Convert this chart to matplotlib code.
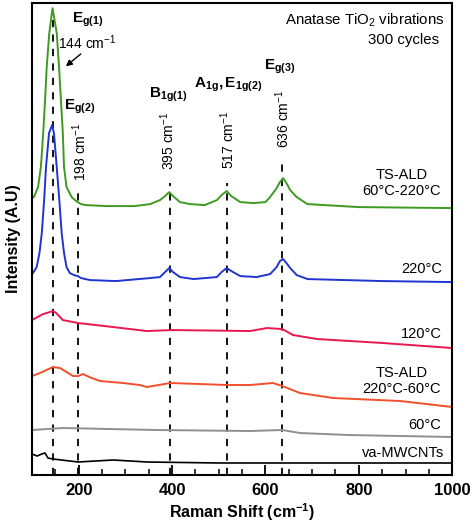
import numpy as np
import matplotlib
matplotlib.use("Agg")
import matplotlib.pyplot as plt

plt.rcParams['font.family'] = ['Liberation Sans', 'DejaVu Sans']
plt.rcParams['mathtext.fontset'] = 'custom'
plt.rcParams['mathtext.rm'] = 'Liberation Sans'
plt.rcParams['mathtext.it'] = 'Liberation Sans'
plt.rcParams['mathtext.bf'] = 'Liberation Sans:bold'

# Spectra (Raman shift in cm-1, intensity in arbitrary units)
green_x = [100, 104, 113, 119, 124, 128, 131.5, 137, 144, 153, 158, 162, 166, 168.6, 174, 185, 192,
           198, 205, 215, 260, 320, 353, 374, 385, 394, 402, 417, 439, 470, 496, 506, 517, 527, 546,
           574, 600, 610, 624, 631, 638, 645, 653, 667, 690, 800, 1000]
green_y = [277, 278, 288, 308, 342, 375, 408, 442, 467, 442, 408, 375, 342, 308, 288, 278, 275,
           273, 271, 270, 269, 269, 271, 275, 279, 283, 279, 273, 271, 270, 275, 280, 284, 279, 273,
           272, 273, 278, 287, 293, 297, 292, 285, 278, 271, 268, 267]

blue_x = [100, 102, 110, 116, 121, 126, 130, 136.5, 143, 147, 153, 158.5, 163.6, 168.6, 174, 181,
          190, 198, 205, 224, 280, 353, 374, 385, 394, 402, 417, 446, 496, 506, 517, 527, 546, 581,
          610, 624, 631, 638, 645, 653, 667, 690, 850, 1000]
blue_y = [201, 202, 208, 222, 242, 275, 308, 342, 350, 342, 308, 275, 242, 222, 208, 202,
          200, 199, 197, 195, 194, 197, 198, 203, 207, 203, 198, 196, 198, 203, 207, 204, 199, 198,
          201, 208, 214, 216, 212, 207, 200, 196, 194, 193]

crimson_x = [100, 124, 145, 152, 166, 199, 274, 346, 400, 567, 603, 636, 659, 711, 852, 1000]
crimson_y = [155, 161, 164, 162, 155, 152, 148, 144, 145, 144, 147, 146, 140, 136, 132, 127]

orange_x = [100, 117, 145, 160, 188, 199, 209, 228, 246, 295, 331, 346, 396, 460, 517, 567, 616,
            636, 674, 745, 889, 1000]
orange_y = [99, 102, 108, 107, 99, 99, 101, 97, 94, 92, 90, 88, 92, 91, 90, 90, 92, 89, 82, 77,
            74, 68]

grey_x = [100, 166, 366, 567, 636, 674, 778, 1000]
grey_y = [45, 47, 45, 44, 45, 42, 40, 38]

black_x = [100, 111, 121, 128, 134, 145, 199, 274, 346, 500, 700, 1000]
black_y = [21, 19, 21, 22, 17, 16, 13, 15, 13, 12, 12, 12]

# dashed mode lines: position, top of the line
mode_pos = [144, 198, 395, 517, 636]
mode_top = [465, 285, 292, 292, 315]

fig = plt.figure(figsize=(4.74, 5.28), dpi=100)
ax = fig.add_axes([0.0675, 0.1004, 0.8865, 0.8936])

for xp, top in zip(mode_pos, mode_top):
    ax.plot([xp, xp], [0, top], color='black', lw=1.3, ls=(0, (4, 4)), zorder=1)

ax.plot(green_x, green_y, color='#3f9a22', lw=1.4, zorder=2)
ax.plot(blue_x, blue_y, color='#2035d0', lw=1.4, zorder=2)
ax.plot(crimson_x, crimson_y, color='#e8184f', lw=1.4, zorder=2)
ax.plot(orange_x, orange_y, color='#f2502c', lw=1.4, zorder=2)
ax.plot(grey_x, grey_y, color='#8f8f8f', lw=1.4, zorder=2)
ax.plot(black_x, black_y, color='black', lw=1.2, zorder=2)

ax.set_xlim(100, 1000)
ax.set_ylim(0, 472)
ax.set_xticks([200, 400, 600, 800, 1000])
ax.set_xticks(np.arange(150, 1000, 50), minor=True)
ax.set_yticks([])
ax.tick_params(axis='x', which='major', direction='in', length=7, width=1.3, labelsize=12, pad=6)
ax.tick_params(axis='x', which='minor', direction='in', length=4, width=1.1)
for lab in ax.get_xticklabels():
    lab.set_fontweight('bold')
for sp in ax.spines.values():
    sp.set_linewidth(1.5)

ax.set_xlabel(r'Raman Shift (cm$^{\mathbf{-1}}$)', fontsize=11.5, fontweight='bold', labelpad=2)
ax.set_ylabel('Intensity (A.U)', fontsize=11.5, fontweight='bold', labelpad=8)

# mode annotations
fs = 10
ax.text(220, 455, r'$\mathbf{E_{g(1)}}$', fontsize=11, ha='center', va='center')
ax.text(218, 432, r'144 cm$^{-1}$', fontsize=fs, ha='center', va='center')
ax.annotate('', xy=(168, 407), xytext=(209, 423),
            arrowprops=dict(arrowstyle='-|>', color='black', lw=1.0, mutation_scale=9))
ax.text(203, 368, r'$\mathbf{E_{g(2)}}$', fontsize=11, ha='center', va='center')
ax.text(203, 323, r'198 cm$^{-1}$', fontsize=fs, ha='center', va='center', rotation=90)
ax.text(391, 380, r'$\mathbf{B_{1g(1)}}$', fontsize=11, ha='center', va='center')
ax.text(391, 334, r'395 cm$^{-1}$', fontsize=fs, ha='center', va='center', rotation=90)
ax.text(520, 390, r'$\mathbf{A_{1g},E_{1g(2)}}$', fontsize=11, ha='center', va='center')
ax.text(520, 335, r'517 cm$^{-1}$', fontsize=fs, ha='center', va='center', rotation=90)
ax.text(631, 408, r'$\mathbf{E_{g(3)}}$', fontsize=11, ha='center', va='center')
ax.text(637, 356, r'636 cm$^{-1}$', fontsize=fs, ha='center', va='center', rotation=90)

ax.text(983, 455, r'Anatase TiO$_2$ vibrations', fontsize=10.8, ha='right', va='center')
ax.text(972, 435, '300 cycles', fontsize=10.8, ha='right', va='center')

# sample labels
ax.text(891, 292, 'TS-ALD\n60°C-220°C', fontsize=10.5, ha='center', va='center',
        multialignment='center', linespacing=1.15)
ax.text(978, 206, '220°C', fontsize=10.5, ha='right', va='center')
ax.text(978, 141, '120°C', fontsize=10.5, ha='right', va='center')
ax.text(891, 94, 'TS-ALD\n220°C-60°C', fontsize=10.5, ha='center', va='center',
        multialignment='center', linespacing=1.15)
ax.text(976, 50, '60°C', fontsize=10.5, ha='right', va='center')
ax.text(983, 22, 'va-MWCNTs', fontsize=10.5, ha='right', va='center')

fig.savefig('out.png', dpi=100)
